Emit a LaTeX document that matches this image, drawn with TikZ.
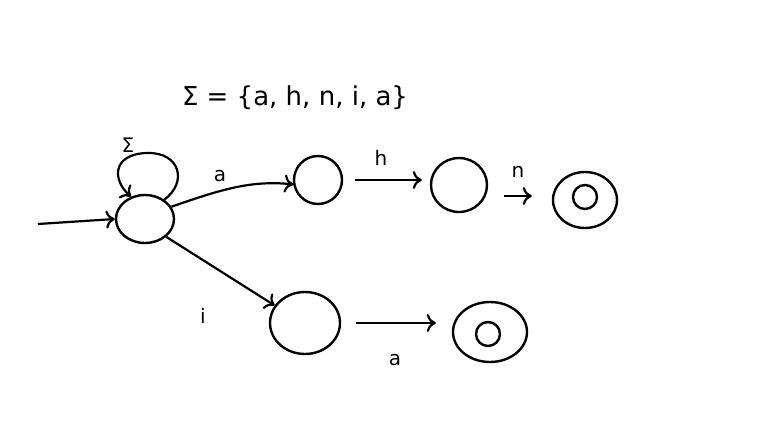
\documentclass[tikz,border=0pt]{standalone}
\usepackage{fontspec}
\setmainfont{DejaVu Sans}
\usetikzlibrary{shapes.geometric,arrows.meta}
\begin{document}
\begin{tikzpicture}[x=1pt,y=-1pt,
  st/.style={ellipse,draw,line width=2.4pt,inner sep=0pt},
  inner/.style={ellipse,draw,line width=2.4pt,inner sep=0pt,minimum width=24pt,minimum height=24pt},
  tr/.style={line width=2.2pt,-{To[length=9pt,width=18pt]}},
  lbl/.style={font=\fontsize{20}{22}\selectfont}]
\fill[white] (0,0) rectangle (780,439);
\useasboundingbox (0,0) rectangle (780,439);
\node[font=\fontsize{26}{30}\selectfont] (title) at (295,98) {Σ = \{a, h, n, i, a\}};
\node[st,minimum width=58pt,minimum height=48pt] (q0) at (145,219) {};
\node[st,minimum width=48pt,minimum height=48pt] (q1) at (318,180) {};
\node[st,minimum width=56pt,minimum height=54pt] (q2) at (459,185) {};
\node[st,minimum width=64pt,minimum height=56pt] (q3) at (585,200) {};
\node[inner] (q3i) at (585,197) {};
\node[st,minimum width=70pt,minimum height=62pt] (q4) at (305,323) {};
\node[st,minimum width=74pt,minimum height=60pt] (q5) at (490,332) {};
\node[inner] (q5i) at (488,334) {};
\coordinate (init) at (38,224);
\coordinate (nrow) at (0,196);
\draw[tr] (init) -- (q0.west);
\draw[tr] (q0.45) .. controls (188,182) and (180,152) .. (147,153) .. controls (112,154) and (112,180) .. (q0.122);
\node[lbl] (lloop) at (128,145) {Σ};
\draw[tr] (q0.25) .. controls (220,190) and (250,180) .. (q1.190);
\node[lbl] (la) at (220,176) {a};
\draw[tr] ([xshift=12pt]q1.east) -- ([xshift=-8pt]q2.west |- q1.east);
\node[lbl] (lh) at (381,158) {h};
\draw[tr] ([xshift=16pt]q2.east |- nrow) -- ([xshift=-20pt]q3.west |- nrow);
\node[lbl] (ln) at (518,172) {n};
\draw[tr] (q0.-40) -- (q4.150);
\node[lbl] (li) at (203,316) {i};
\draw[tr] ([xshift=15pt]q4.east) -- ([xshift=-16pt]q5.west |- q4.east);
\node[lbl] (la2) at (395,360) {a};
\end{tikzpicture}
\end{document}
